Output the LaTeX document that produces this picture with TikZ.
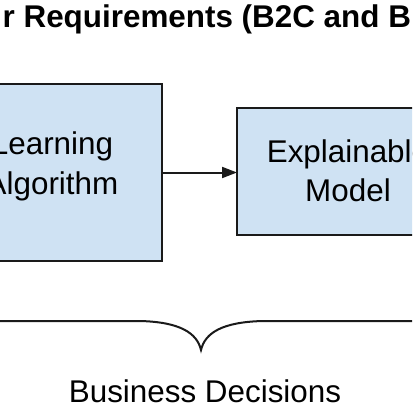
\documentclass[tikz,border=0pt]{standalone}
\usepackage{fontspec}
\setmainfont{Liberation Sans}
\usetikzlibrary{arrows.meta}
\definecolor{boxfill}{HTML}{CFE2F3}
\definecolor{inkline}{HTML}{1A1A1A}
\tikzset{
  boxnode/.style={draw=inkline, fill=boxfill, line width=2pt, rectangle, inner sep=0pt, outer sep=0pt},
  lbl/.style={inner sep=0pt, anchor=base, font=\fontsize{31.4pt}{38pt}\selectfont},
  ttl/.style={inner sep=0pt, anchor=base west, font=\fontsize{31.4pt}{38pt}\selectfont\bfseries},
  conn/.style={draw=inkline, line width=2pt, -{Triangle[length=15pt,width=11pt]}},
  bracestyle/.style={draw=inkline, line width=2pt}
}
\begin{document}
\begin{tikzpicture}[x=1pt,y=-1pt]
\useasboundingbox (0,0) rectangle (412,412);
\clip (0,0) rectangle (412,412);
\fill[white] (0,0) rectangle (412,412);
\node[ttl] (title) at (2.5,27.5) {r Requirements (B2C and B};
\node[boxnode, minimum width=220pt, minimum height=177pt] (learn) at (52,172.5) {};
\node[boxnode, minimum width=222pt, minimum height=127pt] (model) at (348,171.5) {};
\node[lbl] (learn1) at (52,154) {Learning};
\node[lbl] (learn2) at (52,194) {Algorithm};
\node[lbl] (model1) at (348,162) {Explainable};
\node[lbl] (model2) at (348,201) {Model};
\draw[conn] (learn.east) -- (learn.east -| model.west);
\coordinate (tip) at (201,350);
\draw[bracestyle] (-10,321) -- (140,321) .. controls (180,322) and (197,333) .. (tip)
  .. controls (205,333) and (222,322) .. (263,321) -- (422,321);
\node[lbl] (biz) at (205,402) {Business Decisions};
\end{tikzpicture}
\end{document}
